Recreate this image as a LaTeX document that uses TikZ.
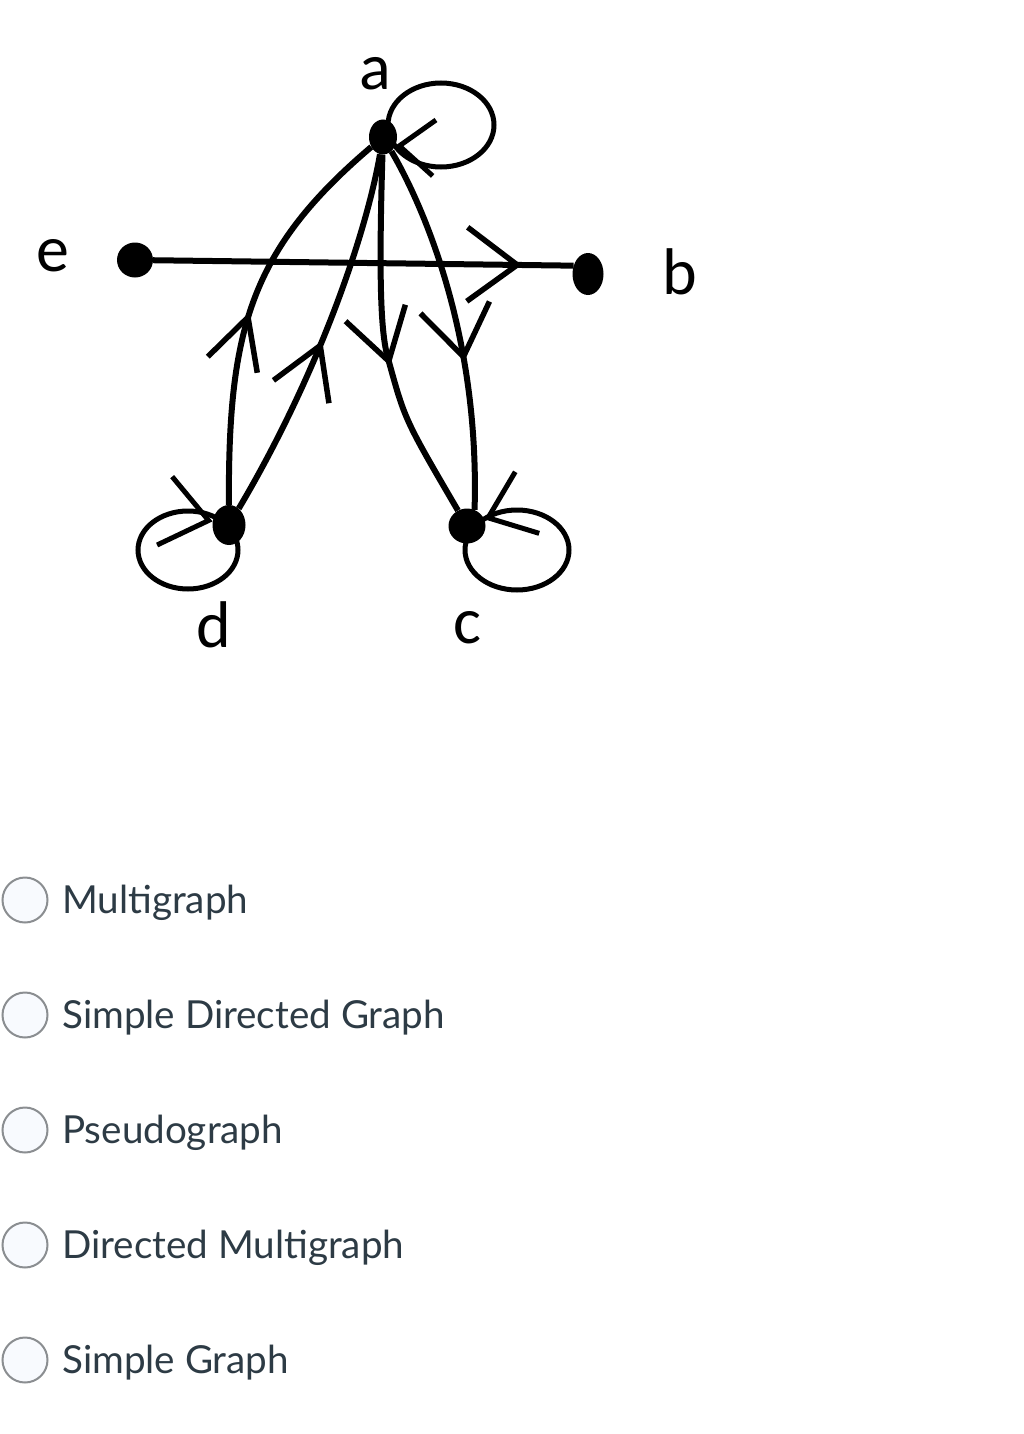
\documentclass[tikz,border=0pt]{standalone}
\usepackage{fontspec}
\setmainfont{Lato}
\newfontfamily\labelfont{Carlito}
\usetikzlibrary{arrows.meta,decorations.markings,shapes.geometric}
\definecolor{txt}{HTML}{2D3B45}
\definecolor{radiodraw}{HTML}{8B8E91}
\definecolor{radiofill}{HTML}{F8FAFE}
\begin{document}
\begin{tikzpicture}[x=1pt,y=-1pt,
  dot/.style={ellipse, fill=black, inner sep=0pt},
  vlabel/.style={font=\labelfont\fontsize{66}{70}\selectfont, inner sep=0pt},
  edgeline/.style={line width=6pt, black},
  loopline/.style={line width=5pt, black},
  midtip/.style 2 args={postaction=decorate, decoration={markings,
      mark=at position #1 with {\arrow{Straight Barb[length=50pt,width=#2,line width=5.5pt]}}}},
  looptip/.style 2 args={line width=5pt, postaction=decorate, decoration={markings,
      mark=at position 0.9999 with {\arrow{Straight Barb[length=#1,width=#2,line width=5pt]}}}},
  radio/.style={circle, draw=radiodraw, fill=radiofill, line width=2pt, minimum size=45pt, inner sep=0pt},
  opt/.style={anchor=base west, text=txt, inner sep=0pt, font=\fontsize{38.6}{42}\selectfont}
]
\fill[white] (0,0) rectangle (1024,1434);
\useasboundingbox (0,0) rectangle (1024,1434);

% vertices
\node[dot, minimum width=28pt, minimum height=35pt] (a) at (383,137) {};
\node[dot, minimum width=36pt, minimum height=35pt] (e) at (135,260) {};
\node[dot, minimum width=31pt, minimum height=42pt] (b) at (588,274) {};
\node[dot, minimum width=33pt, minimum height=40pt] (d) at (229,525) {};
\node[dot, minimum width=37pt, minimum height=35pt] (c) at (467,526) {};

% labels
\node[vlabel] (la) at (375,74) {a};
\node[vlabel] (le) at (53,256) {e};
\node[vlabel] (lb) at (680,272) {b};
\node[vlabel] (ld) at (214,625) {d};
\node[vlabel] (lc) at (467,628) {c};

% edges
\draw[edgeline, midtip={0.877}{74pt}] (e) -- (b.150);
\draw[edgeline, midtip={0.485}{52pt}] (d) .. controls (228,330) and (250,250) .. (a);
\draw[edgeline, midtip={0.49}{60pt}] (d) .. controls (315,380) and (365,240) .. (a);
\coordinate (acbend) at (389,362);
\draw[edgeline, midtip={0.57}{62pt}] (a) .. controls (378,300) and (382,340) .. (acbend) .. controls (405,420) .. (c);
\draw[edgeline, midtip={0.60}{70pt}] (a) .. controls (420,200) and (480,330) .. (c.65);

% loops
\draw[loopline] (441,125) ellipse [x radius=53pt, y radius=42pt];
\draw[loopline] (188,550) ellipse [x radius=50pt, y radius=39pt];
\draw[loopline] (517,550) ellipse [x radius=52pt, y radius=40pt];
\coordinate (aL) at (435,148);
\coordinate (dL) at (170,512);
\coordinate (cL) at (521,505);
\path[looptip={35pt}{56pt}] (aL) -- (a.-35);
\path[looptip={45pt}{70pt}] (dL) -- (d);
\path[looptip={42pt}{66pt}] (cL) -- (c);

% options
\node[radio] (r1) at (25,900) {};
\node[radio] (r2) at (25,1015) {};
\node[radio] (r3) at (25,1130) {};
\node[radio] (r4) at (25,1245) {};
\node[radio] (r5) at (25,1360) {};
\node[opt] (o1) at (62,913) {Multigraph};
\node[opt] (o2) at (62,1028) {Simple Directed Graph};
\node[opt] (o3) at (62,1143) {Pseudograph};
\node[opt] (o4) at (62,1258) {Directed Multigraph};
\node[opt] (o5) at (62,1373) {Simple Graph};
\end{tikzpicture}
\end{document}
